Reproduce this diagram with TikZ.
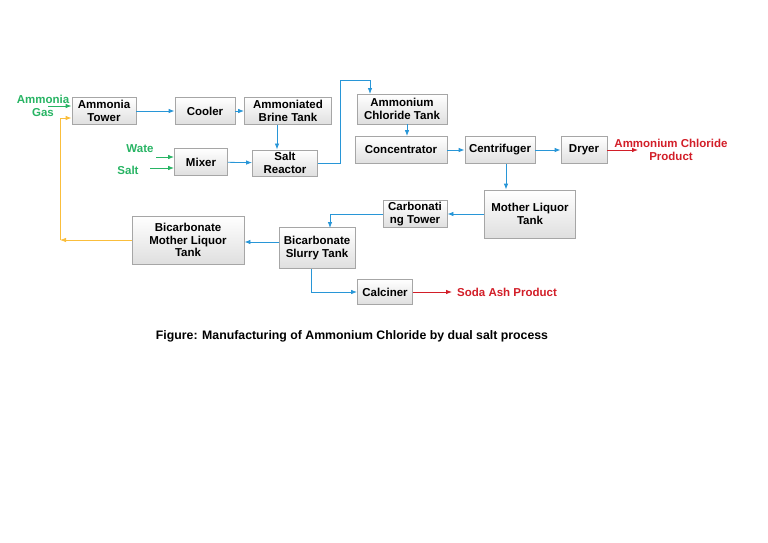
\documentclass[tikz,border=0pt]{standalone}
\usepackage{fontspec}
\setmainfont{Liberation Sans}
\usetikzlibrary{arrows.meta}
\definecolor{flow}{RGB}{40,150,215}
\definecolor{feed}{RGB}{40,180,100}
\definecolor{prod}{RGB}{210,30,40}
\definecolor{recyc}{RGB}{250,190,60}
\begin{document}
\begin{tikzpicture}
  [x=1pt,y=-1pt,font=\bfseries\fontsize{11.5}{12.5}\selectfont,
   every node/.style={align=center,inner sep=1pt},
   unit/.style={draw=gray!70,top color=white,bottom color=gray!25,line width=.8pt},
   link/.style={flow,line width=.8pt,-{Latex[length=6pt,width=4.5pt]}},
   inlet/.style={feed,line width=.8pt,-{Latex[length=6pt,width=4.5pt]}},
   outlet/.style={prod,line width=.8pt,-{Latex[length=6pt,width=4.5pt]}},
   recycle/.style={recyc,line width=.8pt,-{Latex[length=6pt,width=4.5pt]}}]
  \useasboundingbox (0,0) rectangle (768,543);
  \node[unit,minimum width=64,minimum height=27] (tower) at (104,111) {Ammonia\\Tower};
  \node[unit,minimum width=60,minimum height=27] (cooler) at (205,111) {Cooler};
  \node[unit,minimum width=87,minimum height=27] (brine) at (288,111) {Ammoniated\\Brine Tank};
  \node[unit,minimum width=53,minimum height=27] (mixer) at (201,162) {Mixer};
  \node[unit,minimum width=65,minimum height=26] (reactor) at (285,163) {Salt\\Reactor};
  \node[unit,minimum width=90,minimum height=30] (chlor) at (402,109) {Ammonium\\Chloride Tank};
  \node[unit,minimum width=92,minimum height=27] (conc) at (401,150) {Concentrator};
  \node[unit,minimum width=70,minimum height=27] (centri) at (500,150) {Centrifuger};
  \node[unit,minimum width=46,minimum height=27] (dryer) at (584,150) {Dryer};
  \node[unit,minimum width=91,minimum height=48] (mother) at (530,214) {Mother Liquor\\Tank};
  \node[unit,minimum width=64,minimum height=27] (carb) at (415,214) {Carbonati\\ng Tower};
  \node[unit,minimum width=76,minimum height=41] (slurry) at (317,248) {Bicarbonate\\Slurry Tank};
  \node[unit,minimum width=112,minimum height=48] (bml) at (188,240) {Bicarbonate\\Mother Liquor\\Tank};
  \node[unit,minimum width=55,minimum height=25] (calc) at (385,292) {Calciner};

  \node[text=feed] (gas) at (43,106) {Ammonia\\Gas};
  \node[text=feed] (water) at (140,149) {Wate};
  \node[text=feed] (salt) at (128,170) {Salt};
  \node[text=prod] (nh4cl) at (671,150) {Ammonium Chloride\\Product};
  \node[text=prod,anchor=west] (soda) at (456,292) {Soda Ash Product};
  \node[font=\bfseries\fontsize{12.3}{13}\selectfont] (cap) at (352,336) {Figure: Manufacturing of Ammonium Chloride by dual salt process};

  \foreach \from/\to in {tower/cooler, cooler/brine, mixer/reactor, conc/centri, centri/dryer, mother/carb}
    \draw[link] (\from) -- (\to);
  \draw[link] (slurry.west |- 0,242) -- (bml.east |- 0,242);
  \draw[link] (277,124.5) -- (277,149.5);
  \draw[link] (chlor.south -| 407,0) -- (conc.north -| 407,0);
  \draw[link] (centri.south -| 506,0) -- (mother.north -| 506,0);
  \draw[link] (reactor.east) -| (340,80) -| (370,94);
  \draw[link] (carb.west) -| (330,228);
  \draw[link] (311,269) |- (calc.west);
  \draw[inlet] (48,106) -- (tower.west |- 0,106);
  \draw[inlet] (156,157) -- (mixer.west |- 0,157);
  \draw[inlet] (150,168) -- (mixer.west |- 0,168);
  \draw[outlet] (dryer.east) -- (638,150);
  \draw[outlet] (calc.east) -- (452,292);
  \draw[recycle] (bml.west) -- (60,240);
  \draw[recycle] (60,240) |- (tower.west |- 0,118);
\end{tikzpicture}
\end{document}
